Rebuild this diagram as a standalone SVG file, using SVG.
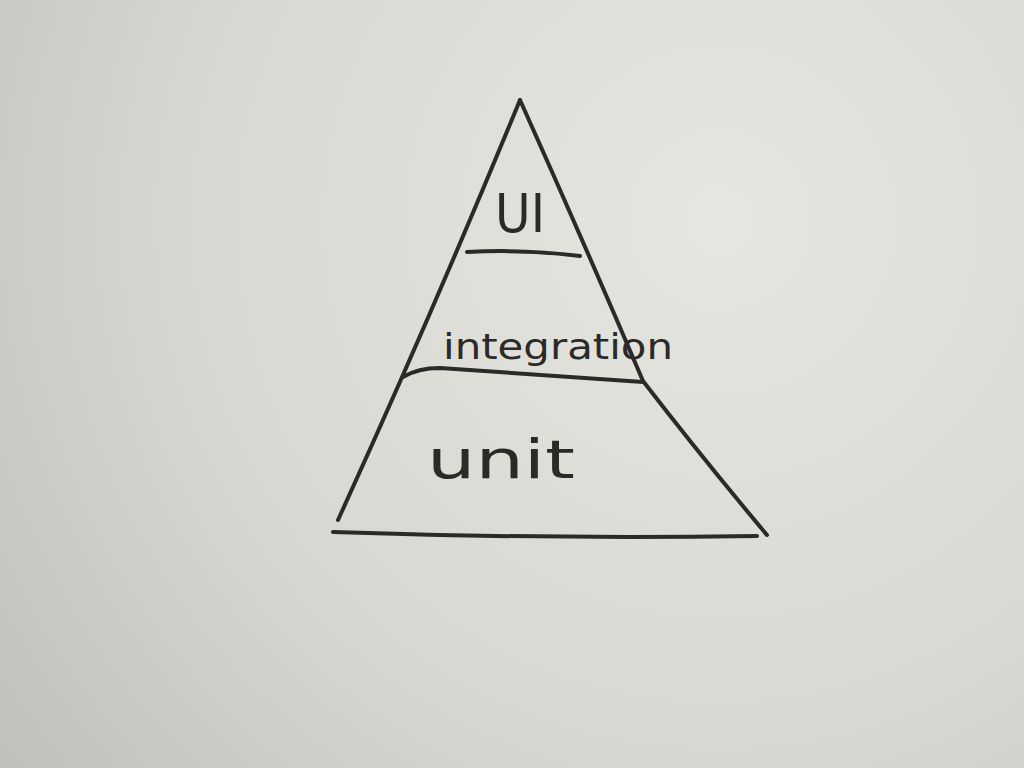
<svg xmlns="http://www.w3.org/2000/svg" width="1024" height="768" viewBox="0 0 1024 768">
<defs>
<radialGradient id="paper" cx="720" cy="220" r="950" gradientUnits="userSpaceOnUse">
<stop offset="0" stop-color="#e6e6e1"/>
<stop offset="0.55" stop-color="#d8d7d2"/>
<stop offset="1" stop-color="#bebcb7"/>
</radialGradient>
</defs>
<style>
.ink{fill:none;stroke:#2b2a28;stroke-width:4;stroke-linecap:round;stroke-linejoin:round}
.lbl{font-family:"DejaVu Sans","Liberation Sans",sans-serif;fill:#2b2a28}
</style>
<rect x="0" y="0" width="1024" height="768" fill="url(#paper)"/>
<g id="connectors">
<path class="ink" d="M338,520 Q432,314 520,100"/>
<path class="ink" d="M520,100 Q585,245 643,381 Q700,455 767,535"/>
<path class="ink" d="M333,532 Q540,539 757,536"/>
<path class="ink" d="M467,252 Q525,249 580,256"/>
<path class="ink" d="M403,377 Q418,368 440,368 L643,382"/>
</g>
<g id="layer-ui">
<text class="lbl" x="520" y="232" font-size="54" text-anchor="middle" textLength="50" lengthAdjust="spacingAndGlyphs">UI</text>
</g>
<g id="layer-integration">
<text class="lbl" x="443" y="359" font-size="36" textLength="230" lengthAdjust="spacingAndGlyphs">integration</text>
</g>
<g id="layer-unit">
<text class="lbl" x="427" y="478" font-size="54" textLength="148" lengthAdjust="spacingAndGlyphs">unit</text>
</g>
</svg>
